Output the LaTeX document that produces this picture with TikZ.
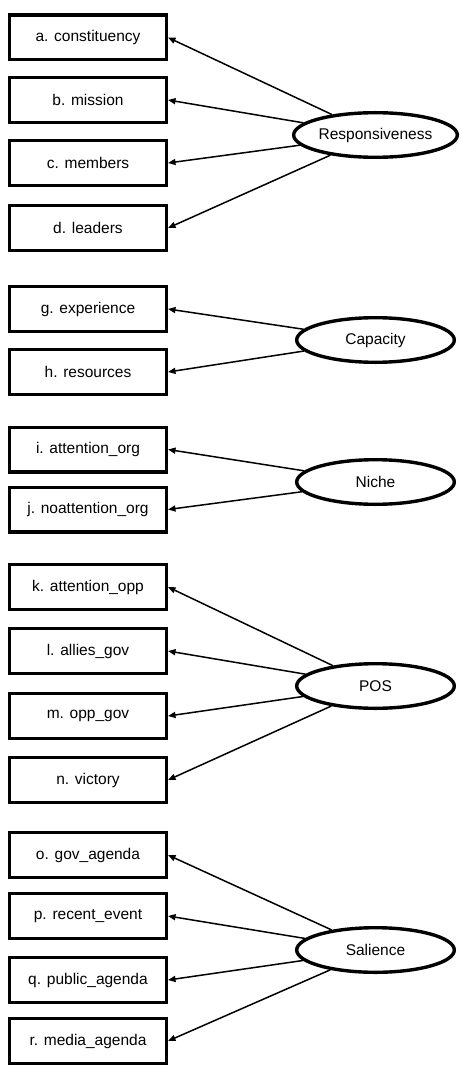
\documentclass[tikz,border=0pt]{standalone}
\usepackage{fontspec}
\setmainfont{Liberation Sans}
\usepackage{tikz}
\usetikzlibrary{arrows.meta,positioning,shapes.geometric}

\begin{document}
\begin{tikzpicture}[
  x=1pt,y=-1pt,
  font=\fontsize{15.5}{18}\selectfont,
  item/.style={draw,line width=3.4pt,minimum width=156.6pt,minimum height=44.6pt,
    inner sep=2pt,align=center},
  factor/.style={draw,ellipse,line width=3.4pt,minimum width=157.6pt,minimum height=44.6pt,
    inner sep=1pt},
  arr/.style={-{Triangle[length=7.5pt,width=6pt]},line width=1.5pt},
]
\useasboundingbox (0,0) rectangle (474,1075);
% Responsiveness
\node[item] (a) at (88,37.5) {a. constituency};
\node[item] (b) at (88,100) {b. mission};
\node[item] (c) at (88,163) {c. members};
\node[item] (d) at (88,228) {d. leaders};
\node[factor] (resp) at (375.5,135) {Responsiveness};
% Capacity
\node[item] (g) at (88,309) {g. experience};
\node[item] (h) at (88,372) {h. resources};
\node[factor] (cap) at (375.5,340) {Capacity};
% Niche
\node[item] (i) at (88,449.5) {i. attention\_org};
\node[item] (j) at (88,509.5) {j. noattention\_org};
\node[factor] (niche) at (375.5,482) {Niche};
% POS
\node[item] (k) at (88,587) {k. attention\_opp};
\node[item] (l) at (88,651) {l. allies\_gov};
\node[item] (m) at (88,716) {m. opp\_gov};
\node[item] (n) at (88,780) {n. victory};
\node[factor] (pos) at (375.5,686) {POS};
% Salience
\node[item] (o) at (88,855) {o. gov\_agenda};
\node[item] (p) at (88,916) {p. recent\_event};
\node[item] (q) at (88,980) {q. public\_agenda};
\node[item] (r) at (88,1041) {r. media\_agenda};
\node[factor] (sal) at (375.5,950) {Salience};
% loadings
\draw[arr] (resp)--(a.east);
\draw[arr] (resp)--(b.east);
\draw[arr] (resp)--(c.east);
\draw[arr] (resp)--(d.east);
\draw[arr] (cap)--(g.east);
\draw[arr] (cap)--(h.east);
\draw[arr] (niche)--(i.east);
\draw[arr] (niche)--(j.east);
\draw[arr] (pos)--(k.east);
\draw[arr] (pos)--(l.east);
\draw[arr] (pos)--(m.east);
\draw[arr] (pos)--(n.east);
\draw[arr] (sal)--(o.east);
\draw[arr] (sal)--(p.east);
\draw[arr] (sal)--(q.east);
\draw[arr] (sal)--(r.east);
\end{tikzpicture}
\end{document}
